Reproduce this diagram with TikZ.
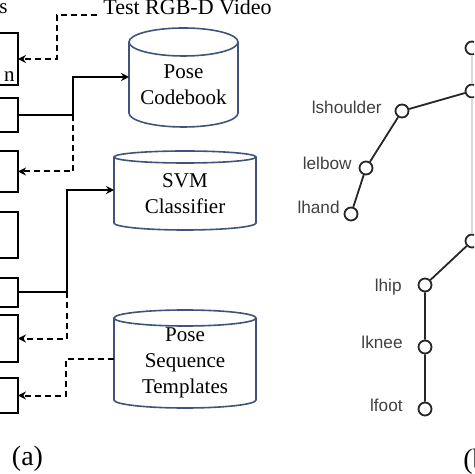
\documentclass[tikz,border=0pt]{standalone}
\usepackage{fontspec}
\setmainfont{Liberation Serif}
\newfontfamily\skelfont{Liberation Sans}
\usetikzlibrary{shapes,arrows.meta,positioning}
\definecolor{dbblue}{RGB}{62,84,122}

\begin{document}
\begin{tikzpicture}[x=0.5pt, y=-0.5pt, font=\fontsize{10.5}{13}\selectfont]
  \tikzstyle{blk} =    [rectangle, draw, line width=1pt, minimum width=24pt, inner sep=0pt, outer sep=0pt]
  \tikzstyle{db} =     [rectangle, inner sep=0pt, outer sep=0pt, align=center]
  \tikzstyle{dbline} = [draw=dbblue, line width=0.8pt]
  \tikzstyle{line} =   [draw, line width=1pt, -{Stealth[length=4pt,width=4pt]}]
  \tikzstyle{dline} =  [line, dash pattern=on 3pt off 2pt]
  \tikzstyle{joint} =  [circle, draw=black!85, line width=0.9pt, minimum size=6.5pt, inner sep=0pt, fill=white]
  \tikzstyle{bone} =   [draw=black!85, line width=0.9pt]
  \tikzstyle{spine} =  [draw=black!15, line width=0.9pt]
  \tikzstyle{jname} =  [font=\skelfont\fontsize{8.6}{10}\selectfont, text=black!75, anchor=east, inner sep=0pt]
  \useasboundingbox (0,0) rectangle (474,474);
  \clip (0,0) rectangle (474,474);
  % Place nodes
  \node [blk, minimum height=26pt] (box1) at (-6,59) {};
  \node [blk, minimum height=17pt] (box2) at (-6,115) {};
  \node [blk, minimum height=20.5pt] (box3) at (-6,171.5) {};
  \node [blk, minimum height=23pt] (box4) at (-6,235) {};
  \node [blk, minimum height=14.5pt] (box5) at (-6,292.5) {};
  \node [blk, minimum height=23.5pt] (box6) at (-6,338.5) {};
  \node [blk, minimum height=17.5pt] (box7) at (-6,395.5) {};
  \node [anchor=base east, inner sep=0pt] (txt-s) at (8,14) {s};
  \node [anchor=base east, inner sep=0pt] (txt-n) at (15,82) {n};
  \node [anchor=base west, inner sep=0pt, font=\fontsize{11}{13}\selectfont] (video) at (103,15) {Test RGB-D Video};
  \node [db, minimum width=54.5pt, minimum height=42.5pt] (codebook) at (183.5,84.5) {Pose\\Codebook};
  \node [db, minimum width=71pt, minimum height=36.5pt] (svm) at (185,193.5) {SVM\\Classifier};
  \node [db, minimum width=71pt, minimum height=45pt] (templates) at (185,363) {Pose\\Sequence\\Templates};

  % cylinders
  \path [dbline] (codebook.north west) -- ([yshift=7pt]codebook.south west) arc [start angle=180, end angle=360, x radius=27.25pt, y radius=7pt] -- (codebook.north east);
  \path [dbline] (codebook.north) ellipse [x radius=27.25pt, y radius=7pt];
  \path [dbline] (svm.north west) -- ([yshift=3.5pt]svm.south west) arc [start angle=180, end angle=360, x radius=35.5pt, y radius=3.5pt] -- (svm.north east);
  \path [dbline] (svm.north) ellipse [x radius=35.5pt, y radius=3pt];
  \path [dbline] (templates.north west) -- ([yshift=4pt]templates.south west) arc [start angle=180, end angle=360, x radius=35.5pt, y radius=4pt] -- (templates.north east);
  \path [dbline] (templates.north) ellipse [x radius=35.5pt, y radius=4pt];

  \coordinate (v-turn) at (57,59);
  \coordinate (b2-split) at (73,115);
  \coordinate (b5-split) at (67,292.5);
  \coordinate (t-turn) at (66,359);

  \path [dline] ([xshift=-3pt]video.base west) -| (v-turn) -- (box1);
  \path [line] (box2) -- (b2-split) |- ([yshift=3.75pt]codebook.west);
  \path [dline] (b2-split) |- (box3);
  \path [line] (box5) -- (b5-split) |- ([yshift=1.75pt]svm.west);
  \path [dline] (b5-split) |- (box6);
  \path [dline] ([yshift=2pt]templates.west) -- (t-turn) |- (box7);

  % skeleton
  \node [joint] (head) at (472,48) {};
  \node [joint] (neck) at (472,91) {};
  \node [joint] (lshoulder) at (402,111) {};
  \node [joint] (lelbow) at (366,168) {};
  \node [joint] (lhand) at (351,214) {};
  \node [joint] (hip-c) at (472,241) {};
  \node [joint] (lhip) at (425,285) {};
  \node [joint] (lknee) at (425,347) {};
  \node [joint] (lfoot) at (425,409) {};
  \path [spine] (head) -- (neck) -- (hip-c);
  \path [bone] (neck) -- (lshoulder) -- (lelbow) -- (lhand);
  \path [bone] (hip-c) -- (lhip) -- (lknee) -- (lfoot);
  \node [jname] (lshoulder-l) at (382,107) {lshoulder};
  \node [jname] (lelbow-l) at (352,163) {lelbow};
  \node [jname] (lhand-l) at (340,207) {lhand};
  \node [jname] (lhip-l) at (402,287) {lhip};
  \node [jname] (lknee-l) at (403,342) {lknee};
  \node [jname] (lfoot-l) at (403,405) {lfoot};

  \node [font=\fontsize{14}{16}\selectfont, inner sep=0pt] (cap-a) at (27.5,459) {(a)};
  \node [font=\fontsize{14}{16}\selectfont, inner sep=0pt, anchor=west] (cap-b) at (463,462) {(b)};
\end{tikzpicture}
\end{document}
